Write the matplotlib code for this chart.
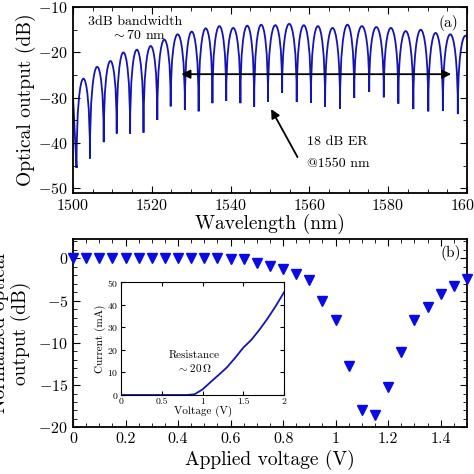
import matplotlib
matplotlib.use("Agg")
from matplotlib import pyplot as plt
from matplotlib.path import Path
from matplotlib.patches import PathPatch
from matplotlib.ticker import MultipleLocator

plt.rcParams['font.family'] = ['cmr10', 'DejaVu Serif']
plt.rcParams['mathtext.fontset'] = 'cm'
plt.rcParams['axes.formatter.use_mathtext'] = True

# (a) transmission comb: level at 1500 nm, dip positions / depths, arch tops
start_wl, start_db = 1500.0, -29.8
dip_wl = [1500.9, 1504.3, 1507.8, 1511.1, 1514.5, 1517.9, 1521.4, 1524.8,
          1528.4, 1531.9, 1535.4, 1538.9, 1542.5, 1546.0, 1549.5, 1553.1,
          1556.8, 1560.4, 1564.0, 1567.8, 1571.4, 1575.2, 1578.9, 1582.6,
          1586.4, 1590.2, 1593.9, 1597.7, 1601.6]
dip_db = [-45.5, -43.4, -39.8, -37.9, -37.9, -37.7, -34.9, -31.9,
          -32.7, -33.0, -31.2, -30.7, -31.2, -32.0, -30.9, -28.9,
          -30.9, -31.1, -32.0, -32.4, -30.0, -28.7, -29.9, -31.3,
          -32.5, -33.0, -32.9, -33.6, -34.0]
peak_db = [-25.8, -23.2, -21.9, -20.0, -19.4, -18.6, -17.2, -16.0,
           -15.4, -14.7, -14.2, -14.6, -14.1, -13.9, -14.0, -13.7,
           -14.0, -14.2, -14.6, -13.9, -14.2, -14.4, -14.6, -15.3,
           -15.0, -15.7, -16.0, -16.3]

# (b) normalized output vs applied voltage
volt = [0.0, 0.05, 0.1, 0.15, 0.2, 0.25, 0.3, 0.35, 0.4, 0.45, 0.5, 0.55,
        0.6, 0.65, 0.7, 0.75, 0.8, 0.85, 0.9, 0.95, 1.0, 1.05, 1.1, 1.15,
        1.2, 1.25, 1.3, 1.35, 1.4, 1.45, 1.5]
out_db = [0, 0, 0, 0, 0, 0, 0, 0, 0, 0, 0, 0,
          -0.05, -0.1, -0.5, -0.9, -1.2, -1.9, -2.6, -5.0, -7.3, -12.8, -17.9, -18.5,
          -15.2, -11.1, -7.25, -5.8, -4.2, -3.3, -2.4]

# inset I-V
iv_v = [0, 0.8, 0.9, 1.0, 1.1, 1.2, 1.3, 1.4, 1.5, 1.6, 1.7, 1.8, 1.9, 2.0]
iv_i = [0, 0, 0.3, 2.5, 5.8, 9.0, 12.3, 16.5, 21.0, 24.5, 29.0, 34.0, 39.5, 45.5]

blue = '#1414b4'

fig = plt.figure(figsize=(4.74, 4.74), dpi=100)
ax1 = fig.add_axes([0.154, 0.593, 0.831, 0.392])
ax2 = fig.add_axes([0.154, 0.0985, 0.831, 0.3965])

# spectrum drawn as arches between dips
verts = [(start_wl, start_db), (dip_wl[0], dip_db[0])]
codes = [Path.MOVETO, Path.LINETO]
for i in range(len(peak_db)):
    a, b = dip_db[i], dip_db[i + 1]
    cy = (8 * peak_db[i] - a - b) / 6
    verts += [(dip_wl[i], cy), (dip_wl[i + 1], cy), (dip_wl[i + 1], b)]
    codes += [Path.CURVE4] * 3
ax1.add_patch(PathPatch(Path(verts, codes), fill=False, edgecolor=blue, lw=1.3))

ax1.set_xlim(1500, 1600)
ax1.set_ylim(-51, -10)
ax1.xaxis.set_major_locator(MultipleLocator(20))
ax1.xaxis.set_minor_locator(MultipleLocator(5))
ax1.yaxis.set_major_locator(MultipleLocator(10))
ax1.yaxis.set_minor_locator(MultipleLocator(5))
ax1.set_xlabel("Wavelength (nm)", fontsize=14, labelpad=1)
ax1.set_ylabel("Optical output (dB)", fontsize=14, labelpad=2)

ax1.annotate('', xy=(1527.5, -24.8), xytext=(1596, -24.8),
             arrowprops=dict(arrowstyle='<|-|>', color='black', lw=1.3, mutation_scale=13,
                             shrinkA=0, shrinkB=0))
ax1.annotate('', xy=(1550.3, -32.5), xytext=(1557, -43.1),
             arrowprops=dict(arrowstyle='-|>', color='black', lw=1.3, mutation_scale=13,
                             shrinkA=0, shrinkB=0))
ax1.text(1515.7, -13.2, "3dB bandwidth", fontsize=10, ha='center', va='center')
ax1.text(1516.7, -16.2, r"$\sim$70 nm", fontsize=10, ha='center', va='center')
ax1.text(1567, -39.7, "18 dB ER", fontsize=10, ha='center', va='center')
ax1.text(1567.3, -44.7, "@1550 nm", fontsize=10, ha='center', va='center')
ax1.text(1595.4, -13.4, "(a)", fontsize=11, ha='center', va='center')

ax2.plot(volt, out_db, linestyle='none', marker='v', markersize=7.5,
         color='#0a0ae6', clip_on=False, zorder=3)
ax2.set_xlim(0, 1.5)
ax2.set_ylim(-20, 2.25)
ax2.xaxis.set_major_locator(MultipleLocator(0.2))
ax2.xaxis.set_minor_locator(MultipleLocator(0.05))
ax2.yaxis.set_major_locator(MultipleLocator(5))
ax2.yaxis.set_minor_locator(MultipleLocator(1))
ax2.set_xticks([0, 0.2, 0.4, 0.6, 0.8, 1.0, 1.2, 1.4])
ax2.set_xticklabels(['0', '0.2', '0.4', '0.6', '0.8', '1', '1.2', '1.4'])
ax2.set_xlabel("Applied voltage (V)", fontsize=14, labelpad=3)
ax2.set_ylabel("Normalized optical\noutput (dB)", fontsize=14, linespacing=1.1)
ax2.yaxis.set_label_coords(-0.107, 0.5)
ax2.text(1.44, 0.6, "(b)", fontsize=11, ha='center', va='center')

for ax in (ax1, ax2):
    ax.tick_params(which='both', direction='in', top=True, right=True, labelsize=11.5)
    ax.tick_params(which='major', length=5)
    ax.tick_params(which='minor', length=3)
    for s in ax.spines.values():
        s.set_linewidth(1.3)

inset = fig.add_axes([0.256, 0.1667, 0.343, 0.2377])
inset.plot(iv_v, iv_i, color=blue, lw=1.3)
inset.set_xlim(0, 2)
inset.set_ylim(0, 50)
inset.set_xticks([0, 0.5, 1, 1.5, 2])
inset.set_xticklabels(['0', '0.5', '1', '1.5', '2'])
inset.set_yticks([0, 10, 20, 30, 40, 50])
inset.tick_params(direction='in', top=True, right=True, labelsize=7, length=3, pad=2)
inset.set_xlabel("Voltage (V)", fontsize=8, labelpad=0)
inset.set_ylabel("Current (mA)", fontsize=8, labelpad=1)
inset.text(0.9, 17.5, "Resistance", fontsize=8, ha='center', va='center')
inset.text(0.9, 12, r"$\sim$20$\,\Omega$", fontsize=8, ha='center', va='center')

fig.savefig("out.png", dpi=100)
